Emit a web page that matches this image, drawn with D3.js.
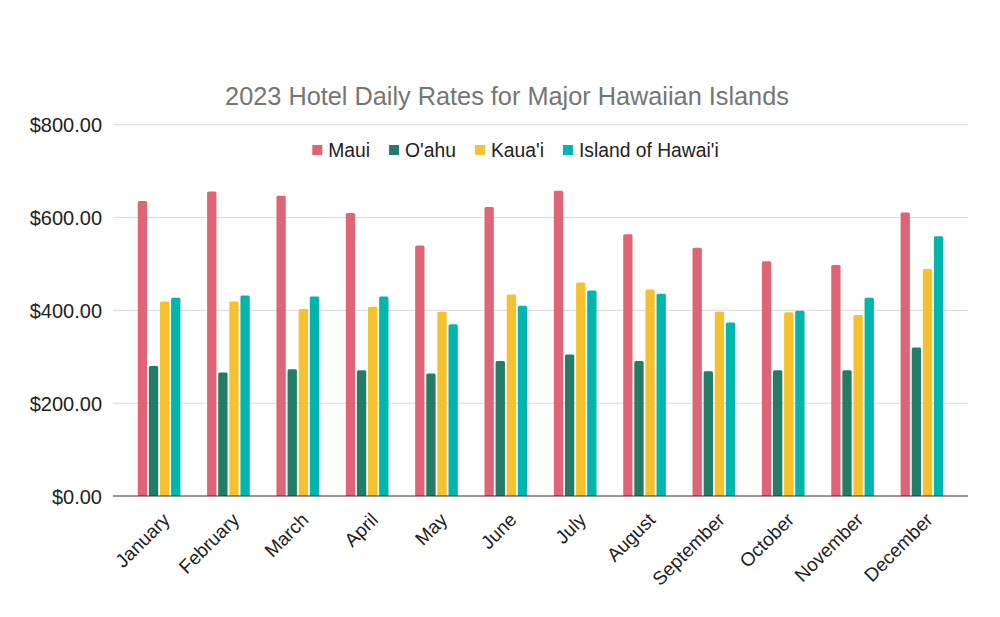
<!DOCTYPE html>
<html>
<head>
<meta charset="utf-8">
<script src="https://cdn.jsdelivr.net/npm/d3@7/dist/d3.min.js"></script>
<style>
  html, body { margin: 0; padding: 0; background: #fff; }
  svg { display: block; }
</style>
</head>
<body>
<svg id="chart" width="1000" height="617"></svg>
<script>
const months = ["January","February","March","April","May","June","July","August","September","October","November","December"];
const seriesNames = ["Maui","O'ahu","Kaua'i","Island of Hawai'i"];
const maui    = [636, 656, 647, 610, 540, 623, 658, 564, 535, 506, 498, 611];
const oahu    = [280, 266, 273, 271, 264, 291, 305, 291, 269, 271, 271, 320];
const kauai   = [419, 419, 403, 408, 397, 434, 460, 445, 397, 396, 390, 489];
const hawaii  = [427, 432, 430, 430, 370, 410, 443, 436, 374, 399, 427, 560];
const yTicks  = [0, 200, 400, 600, 800];
const colors  = ["#e06478", "#237b68", "#f5c22d", "#02b6ae"];
const title   = "2023 Hotel Daily Rates for Major Hawaiian Islands";

const values = [maui, oahu, kauai, hawaii];
const svg = d3.select("#chart");
const FONT = "'Liberation Sans', Arial, sans-serif";

const plotLeft = 113, plotRight = 968, plotTop = 124.8, plotBottom = 496;

const x0 = d3.scaleBand().domain(months).range([plotLeft, plotRight]).paddingInner(0.385).paddingOuter(0.357);
const x1 = d3.scaleBand().domain(seriesNames).range([0, x0.bandwidth()]).paddingInner(0.16).paddingOuter(0);
const y = d3.scaleLinear().domain([0, 800]).range([plotBottom, plotTop]);

// gridlines
svg.append("g")
  .selectAll("line").data(yTicks.filter(d => d > 0)).join("line")
  .attr("x1", plotLeft).attr("x2", plotRight)
  .attr("y1", d => y(d)).attr("y2", d => y(d))
  .attr("stroke", "#d9d9d9").attr("stroke-width", 1);

// y axis labels
const yAxis = d3.axisLeft(y).tickValues(yTicks).tickSize(0).tickPadding(0)
  .tickFormat(d => "$" + d3.format(",.2f")(d));
const ya = svg.append("g").attr("transform", `translate(${plotLeft - 11},0)`).call(yAxis);
ya.select(".domain").remove();
ya.selectAll("text")
  .attr("font-family", FONT)
  .attr("font-size", 20).attr("fill", "#222").attr("dy", "0.35em");

// bars
function barPath(x, yTop, w, h) {
  const r = Math.min(1.5, h);
  return `M${x},${yTop + h}V${yTop + r}Q${x},${yTop} ${x + r},${yTop}H${x + w - r}Q${x + w},${yTop} ${x + w},${yTop + r}V${yTop + h}Z`;
}
const groups = svg.append("g").selectAll("g").data(months).join("g")
  .attr("transform", d => `translate(${x0(d)},0)`);
groups.selectAll("path")
  .data((m, i) => seriesNames.map((s, j) => ({ s, j, v: values[j][i] })))
  .join("path")
  .attr("d", d => barPath(x1(d.s), y(d.v), x1.bandwidth(), y(0) - y(d.v)))
  .attr("fill", d => colors[d.j]);

// baseline
svg.append("line").attr("x1", plotLeft).attr("x2", plotRight)
  .attr("y1", y(0)).attr("y2", y(0)).attr("stroke", "#333").attr("stroke-width", 1);

// x axis labels
const xa = svg.append("g").attr("transform", `translate(0,${plotBottom})`)
  .call(d3.axisBottom(x0).tickSize(0).tickPadding(0));
xa.select(".domain").remove();
xa.selectAll("text")
  .attr("font-family", FONT)
  .attr("font-size", 19).attr("fill", "#222")
  .attr("text-anchor", "end")
  .attr("dy", 0)
  .attr("transform", "translate(12,25) rotate(-45)");

// title
svg.append("text").attr("x", 507).attr("y", 105).attr("text-anchor", "middle")
  .attr("font-family", FONT).attr("font-size", 25.3).attr("fill", "#757575")
  .text(title);

// legend
const legendItems = svg.append("g").attr("transform", "translate(0,150)");
let lx = 0;
const items = [];
seriesNames.forEach((s, i) => {
  const g = legendItems.append("g");
  g.append("rect").attr("x", 0).attr("y", -5).attr("width", 10).attr("height", 10).attr("fill", colors[i]);
  const t = g.append("text").attr("x", 16).attr("y", 0).attr("dy", "0.35em")
    .attr("font-family", FONT).attr("font-size", 19.3).attr("fill", "#222").text(s);
  items.push({ g, w: 16 + t.node().getComputedTextLength() });
});
const gap = 19;
const totalW = d3.sum(items, d => d.w) + gap * (items.length - 1);
lx = 515.5 - totalW / 2;
items.forEach(it => { it.g.attr("transform", `translate(${lx},0)`); lx += it.w + gap; });
</script>
</body>
</html>
